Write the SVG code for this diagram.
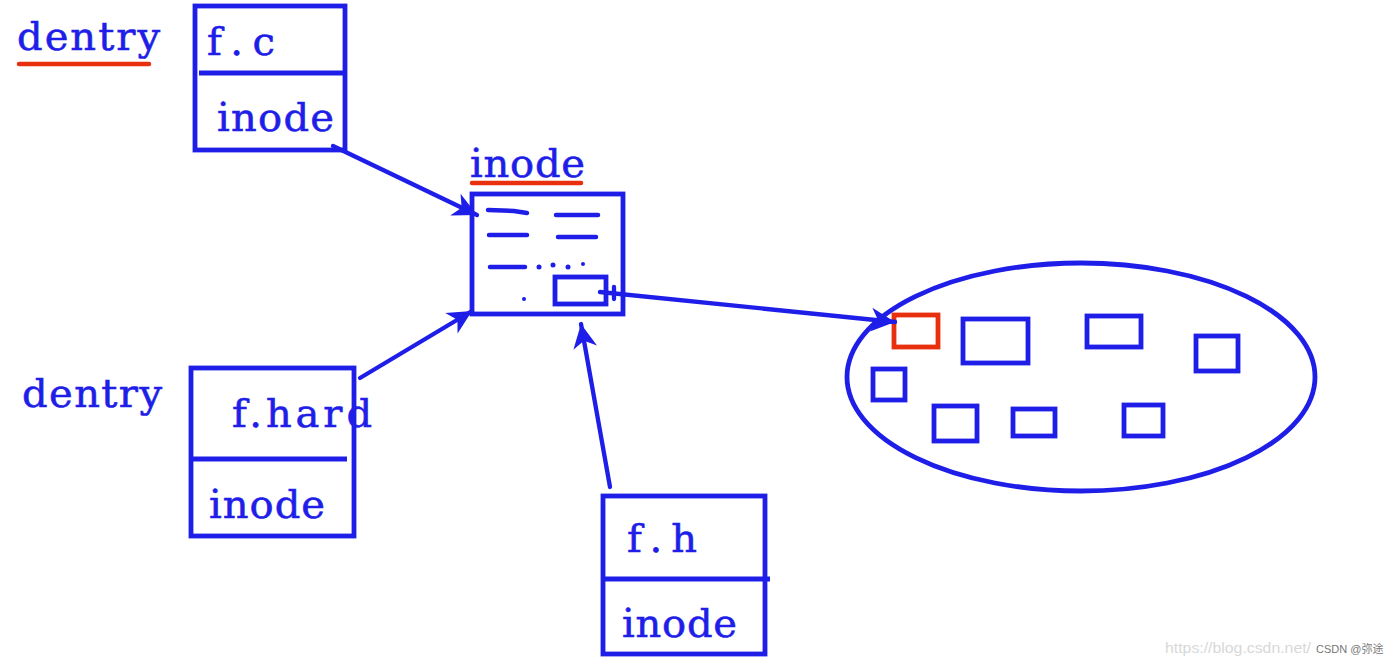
<svg xmlns="http://www.w3.org/2000/svg" width="1398" height="666" viewBox="0 0 1398 666">
<defs>
<style>
.b{fill:none;stroke:#1e1ee8;stroke-width:4.8}
.r{fill:none;stroke:#e8300e;stroke-width:4.8}
.t{font-family:"DejaVu Serif","Liberation Serif",serif;font-size:40px;fill:#1e1ee8;stroke:#1e1ee8;stroke-width:0.6}
.u{stroke:#e8300e;stroke-width:4.5;stroke-linecap:round}
.m{stroke:#1e1ee8;stroke-width:4.5;stroke-linecap:round;fill:none}
.c{stroke:#1e1ee8;stroke-width:4.3;fill:none;stroke-linecap:round}
</style>
<marker id="ah" markerUnits="userSpaceOnUse" markerWidth="32" markerHeight="32" viewBox="0 0 32 32" refX="28" refY="16" orient="auto">
<path d="M28,16 L4,4 L11,16 L4,28 Z" fill="#1e1ee8"/>
</marker>
</defs>
<rect width="1398" height="666" fill="#ffffff"/>

<g id="dentry-top-label">
<text class="t" x="17" y="50" textLength="143" lengthAdjust="spacing">dentry</text>
<line class="u" x1="19" y1="64" x2="149" y2="64"/>
</g>

<g id="dentry-fc">
<rect class="b" x="195" y="6" width="150" height="144"/>
<line class="b" x1="199" y1="73" x2="345" y2="73"/>
<text class="t" x="207" y="55" textLength="68" lengthAdjust="spacing">f.c</text>
<text class="t" x="217" y="131" textLength="117" lengthAdjust="spacing">inode</text>
</g>

<g id="inode">
<text class="t" x="470" y="177" textLength="115" lengthAdjust="spacing">inode</text>
<line class="u" x1="472" y1="183" x2="581" y2="183"/>
<rect class="b" x="472" y="194" width="151" height="120"/>
<path class="m" d="M488,210 L514,211 L527,213"/>
<line class="m" x1="556" y1="215" x2="598" y2="215"/>
<line class="m" x1="489" y1="235" x2="527" y2="235"/>
<line class="m" x1="558" y1="237" x2="596" y2="237"/>
<line class="m" x1="490" y1="267" x2="525" y2="267"/>
<circle cx="539" cy="267" r="2.5" fill="#1e1ee8"/>
<circle cx="553" cy="265" r="2.5" fill="#1e1ee8"/>
<circle cx="568" cy="267" r="2.5" fill="#1e1ee8"/>
<circle cx="583" cy="264" r="2" fill="#1e1ee8"/>
<circle cx="524" cy="299" r="2" fill="#1e1ee8"/>
<rect class="b" x="555" y="277" width="51" height="27"/>
</g>

<g id="dentry-hard">
<text class="t" x="22" y="407" textLength="140" lengthAdjust="spacing">dentry</text>
<rect class="b" x="191" y="368" width="163" height="168"/>
<line class="b" x1="191" y1="459" x2="347" y2="459"/>
<text class="t" x="232" y="427" textLength="140" lengthAdjust="spacing">f.hard</text>
<text class="t" x="209" y="518" textLength="116" lengthAdjust="spacing">inode</text>
</g>

<g id="dentry-fh">
<rect class="b" x="603" y="496" width="162" height="158"/>
<line class="b" x1="603" y1="579" x2="770" y2="579"/>
<text class="t" x="627" y="552" textLength="70" lengthAdjust="spacing">f.h</text>
<text class="t" x="622" y="637" textLength="115" lengthAdjust="spacing">inode</text>
</g>

<g id="blocks">
<ellipse class="b" cx="1081" cy="377" rx="234" ry="114"/>
<rect class="r" x="894" y="315" width="44" height="32"/>
<rect class="b" x="963" y="319" width="65" height="44"/>
<rect class="b" x="1087" y="316" width="54" height="31"/>
<rect class="b" x="1196" y="336" width="42" height="35"/>
<rect class="b" x="873" y="369" width="32" height="31"/>
<rect class="b" x="934" y="406" width="43" height="35"/>
<rect class="b" x="1013" y="409" width="42" height="27"/>
<rect class="b" x="1124" y="405" width="39" height="31"/>
</g>

<g id="connectors">
<line class="c" x1="333" y1="146" x2="477" y2="215" marker-end="url(#ah)"/>
<line class="c" x1="360" y1="378" x2="472" y2="311" marker-end="url(#ah)"/>
<line class="c" x1="610" y1="487" x2="581" y2="324" marker-end="url(#ah)"/>
<line class="c" x1="600" y1="292" x2="895" y2="322" marker-end="url(#ah)"/>
<line class="c" x1="614" y1="287" x2="614" y2="299"/>
</g>

<g id="watermark">
<text x="1165" y="653" font-family="Liberation Sans, Arial, sans-serif" font-size="14" fill="#d8d8d8" textLength="146" lengthAdjust="spacingAndGlyphs">https://blog.csdn.net/</text>
<text x="1316" y="653" font-family="Liberation Sans, 'Noto Sans CJK SC', sans-serif" font-size="11" fill="#777777">CSDN @弥途</text>
</g>
</svg>
